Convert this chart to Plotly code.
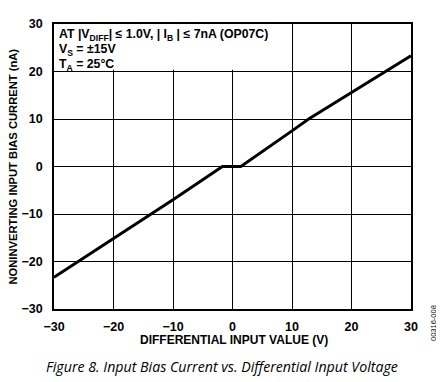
import plotly.graph_objects as go

# Data
x_volts = [-30, -20, -10, -1.7, 1.4, 10, 12.8, 20, 30]
i_bias = [-23.3, -15.2, -7.0, 0, 0, 7.5, 10, 15.6, 23.3]
x_ticks = [-30, -20, -10, 0, 10, 20, 30]
y_ticks = [-30, -20, -10, 0, 10, 20, 30]

OFF = 8  # page body margin
W, H = 444 - OFF, 382 - OFF
ml, mr, mt, mb = 54 - OFF, 33, 24 - OFF, 73
pw, ph = W - ml - mr, H - mt - mb

BOLD = "Liberation Sans"

fig = go.Figure()
fig.add_trace(go.Scatter(x=x_volts, y=i_bias, mode="lines",
                         line=dict(color="black", width=3), showlegend=False,
                         hoverinfo="skip"))

axis_common = dict(showgrid=True, gridcolor="black", gridwidth=1.3,
                   showline=True, linecolor="black", linewidth=1.5, mirror=True,
                   zeroline=False, ticks="", fixedrange=True, automargin=False,
                   tickfont=dict(family=BOLD, size=12.5, color="black", weight="bold"))

fig.update_xaxes(range=[-30, 30], tickvals=x_ticks, ticklabelstandoff=5, **axis_common)
fig.update_yaxes(range=[-30, 30], tickvals=y_ticks, ticklabelstandoff=7, **axis_common)

# white box hiding grid under the condition text
fig.add_shape(type="rect", xref="x", yref="y", x0=-30, x1=9.6, y0=20.35, y1=30,
              fillcolor="white", line=dict(width=0), layer="between")

def px_x(p):
    return (p - OFF - ml) / pw

def px_y(p):
    return 1 - (p - OFF - mt) / ph

# axis titles
fig.add_annotation(text="DIFFERENTIAL INPUT VALUE (V)", xref="paper", yref="paper",
                   x=px_x(233.5), y=px_y(340), xanchor="center", yanchor="middle",
                   showarrow=False,
                   font=dict(family=BOLD, size=12, color="black", weight="bold"))
fig.add_annotation(text="NONINVERTING INPUT BIAS CURRENT (nA)", xref="paper", yref="paper",
                   x=px_x(12), y=px_y(166.5), xanchor="center", yanchor="middle",
                   showarrow=False, textangle=-90,
                   font=dict(family=BOLD, size=11.2, color="black", weight="bold"))

cond_lines = [
    "AT |V<sub>DIFF</sub>| ≤ 1.0V, | I<sub>B</sub> | ≤ 7nA (OP07C)",
    "V<sub>S</sub> = ±15V",
    "T<sub>A</sub> = 25°C",
]
for k, t in enumerate(cond_lines):
    fig.add_annotation(text=t, xref="paper", yref="paper", x=px_x(57), y=px_y(35 + 15 * k),
                       xanchor="left", yanchor="middle", showarrow=False,
                       font=dict(family=BOLD, size=12.3, color="black", weight="bold"))

fig.add_annotation(text="Figure 8. Input Bias Current vs. Differential Input Voltage",
                   xref="paper", yref="paper", x=px_x(222), y=px_y(366),
                   xanchor="center", yanchor="middle", showarrow=False,
                   font=dict(family="Open Sans", size=14.2, color="black", style="italic"))

fig.add_annotation(text="00316-008", xref="paper", yref="paper", x=px_x(433), y=px_y(323),
                   xanchor="center", yanchor="middle", showarrow=False, textangle=-90,
                   font=dict(family="Liberation Sans", size=7.5, color="black"))

fig.update_layout(width=W, height=H, margin=dict(l=ml, r=mr, t=mt, b=mb, pad=0),
                  paper_bgcolor="white", plot_bgcolor="white")

fig.write_html("out.html", config={"displayModeBar": False})
